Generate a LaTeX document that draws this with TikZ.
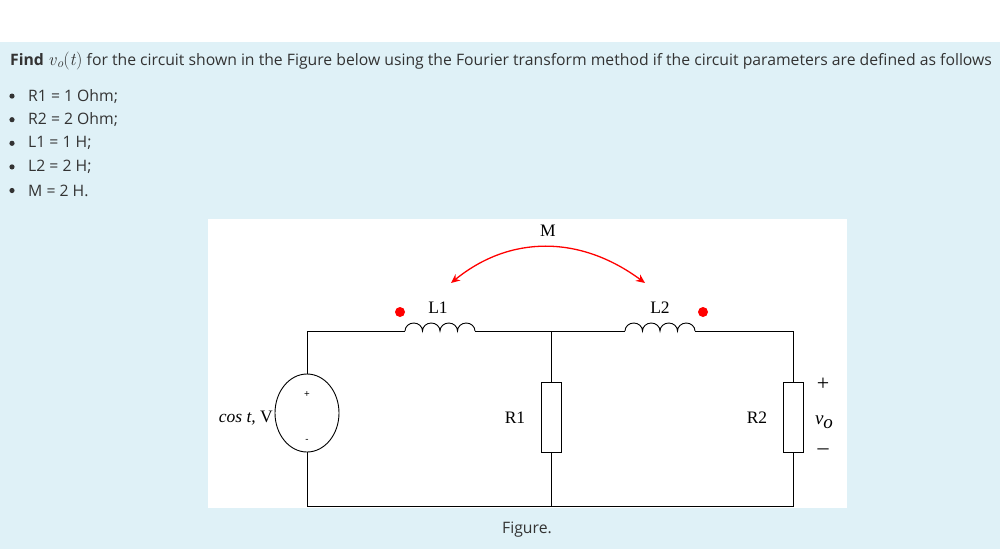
\documentclass[tikz,border=0pt]{standalone}
\usepackage{fontspec}
\setmainfont{Open Sans}
\newfontfamily\serifc{Liberation Serif}
\newfontfamily\lmr{Latin Modern Roman}
\usetikzlibrary{arrows.meta,shapes.geometric}
\definecolor{bgblue}{HTML}{DFF1F7}
\definecolor{txt}{HTML}{333333}
\begin{document}
\begin{tikzpicture}[x=1pt,y=-1pt,
  body/.style={font=\fontsize{15.75}{18}\selectfont, text=txt, anchor=west, inner sep=0},
  lab/.style={font=\serifc\fontsize{17.5}{18}\selectfont, inner sep=0},
  wire/.style={line width=0.9pt},
  dotm/.style={circle, fill=red, inner sep=0, minimum size=10pt}]
\useasboundingbox (0,0) rectangle (1000,549);
\fill[white] (0,0) rectangle (1000,42);
\fill[bgblue] (0,42) rectangle (1000,549);
\fill[white] (208,219) rectangle (847,508);
\node[body] (q) at (10,61) {\textbf{Find} {\lmr\fontsize{18}{18}\selectfont\textit{v}\raisebox{-0.3ex}{\fontsize{13}{13}\selectfont\textit{o}}(\textit{t})} for the circuit shown in the Figure below using the Fourier transform method if the circuit parameters are defined as follows};
\foreach \t [count=\i] in {R1 = 1 Ohm;, R2 = 2 Ohm;, L1 = 1 H;, L2 = 2 H;, M = 2 H.} {
  \node[body] (b\i) at (28,72.5+23.6*\i) {\t};
  \fill[txt] (12,72.5+23.6*\i) circle (2.6);
}
% circuit
\coordinate (tl) at (307,331); \coordinate (tm) at (551,331); \coordinate (tr) at (793,331);
\coordinate (bl) at (307,506); \coordinate (bm) at (551,506); \coordinate (br) at (793,506);
\node[draw, wire, ellipse, minimum width=64pt, minimum height=78pt, inner sep=0] (src) at (307,413) {};
\node[font=\fontsize{10}{10}\selectfont] (sp) at (307,395) {+};
\node[font=\fontsize{10}{10}\selectfont] (sm) at (307,441) {-};
\node[draw, wire, minimum width=20pt, minimum height=70pt, inner sep=0] (R1) at (551,417) {};
\node[draw, wire, minimum width=20pt, minimum height=70pt, inner sep=0] (R2) at (793,417) {};
\draw[wire] (tl) -- (405,331);
\draw[wire] (405,331) \foreach \k in {0,...,3} {arc (180:360:8.75 and 8)};
\draw[wire] (475,331) -- (625,331);
\draw[wire] (625,331) \foreach \k in {0,...,3} {arc (180:360:8.75 and 8)};
\draw[wire] (695,331) -- (tr);
\draw[wire] (tl) -- (src.north); \draw[wire] (src.south) -- (bl) -- (br) -- (R2.south);
\draw[wire] (R2.north) -- (tr);
\draw[wire] (tm) -- (R1.north); \draw[wire] (R1.south) -- (bm);
\node[dotm] (d1) at (400,312) {};
\node[dotm] (d2) at (703,312) {};
\node[lab] (l1) at (438,308) {L1};
\node[lab] (l2) at (660,308) {L2};
\node[lab] (m) at (548,231) {M};
\node[lab] (r1) at (515,418) {R1};
\node[lab] (r2) at (757,418) {R2};
\node[lab, anchor=east] (vs) at (273,418) {\textit{cos t,} V};
\node[lab, font=\serifc\fontsize{22}{22}\selectfont] (pl) at (823,384) {+};
\node[lab, font=\serifc\fontsize{19}{19}\selectfont] (vo) at (824,422) {\textit{v}\raisebox{-0.45ex}{\textit{o}}};
\node[lab, font=\serifc\fontsize{22}{22}\selectfont] (mi) at (823,452) {\textendash};
\draw[red, line width=1.3pt, {Stealth[length=9pt,width=8pt]}-{Stealth[length=9pt,width=8pt]}] (451,283) .. controls (510,235) and (580,235) .. (645,283);
\node[body, anchor=center] (fig) at (527,530) {Figure.};
\end{tikzpicture}
\end{document}
